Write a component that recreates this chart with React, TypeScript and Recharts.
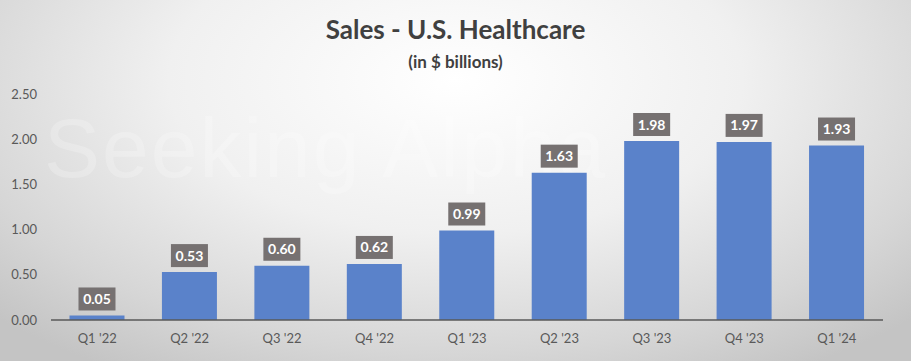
import { BarChart, Bar, XAxis, YAxis, LabelList } from 'recharts';

const quarters = ["Q1 '22", "Q2 '22", "Q3 '22", "Q4 '22", "Q1 '23", "Q2 '23", "Q3 '23", "Q4 '23", "Q1 '24"];
const sales = [0.05, 0.53, 0.6, 0.62, 0.99, 1.63, 1.98, 1.97, 1.93];
const yTicks = [0, 0.5, 1, 1.5, 2, 2.5];

const data = quarters.map((q, i) => ({ quarter: q, sales: sales[i] }));

const FONT = 'Lato, "Open Sans", sans-serif';

function ValueBox(props: any) {
  const { x, y, width, value } = props;
  const cx = x + width / 2;
  const w = 37;
  const h = 23;
  const top = y - h - 5;
  return (
    <g>
      <rect x={cx - w / 2} y={top} width={w} height={h} fill="#767171" />
      <text
        x={cx}
        y={top + h / 2 + 5}
        textAnchor="middle"
        fill="#ffffff"
        fontSize={14}
        fontWeight={700}
        fontFamily={FONT}
      >
        {Number(value).toFixed(2)}
      </text>
    </g>
  );
}

export default function App() {
  return (
    <div
      style={{
        position: 'absolute',
        top: 0,
        left: 0,
        width: 911,
        height: 361,
        background:
          'radial-gradient(ellipse 70% 95% at 50% 22%, #ffffff 0%, #f0f0f0 45%, #d6d6d6 80%, #c4c4c4 100%)',
        fontFamily: FONT,
        overflow: 'hidden',
      }}
    >
      <div
        style={{
          position: 'absolute',
          top: 13,
          width: 911,
          textAlign: 'center',
          fontSize: 26,
          fontWeight: 700,
          color: '#404040',
        }}
      >
        Sales - U.S. Healthcare
      </div>
      <div
        style={{
          position: 'absolute',
          top: 51,
          width: 911,
          textAlign: 'center',
          fontSize: 17,
          fontWeight: 700,
          color: '#404040',
        }}
      >
        (in $ billions)
      </div>
      <div
        style={{
          position: 'absolute',
          top: 100,
          left: 44,
          fontSize: 84,
          fontFamily: '"Liberation Sans", sans-serif',
          color: 'rgba(255,255,255,0.22)',
          letterSpacing: 2,
          whiteSpace: 'nowrap',
          pointerEvents: 'none',
        }}
      >
        Seeking Alpha
      </div>
      <div style={{ position: 'absolute', top: 0, left: 0 }}>
        <BarChart
          width={911}
          height={361}
          data={data}
          margin={{ top: 94, right: 28, bottom: 0, left: 0 }}
          barCategoryGap="20%"
        >
          <XAxis
            dataKey="quarter"
            height={41}
            axisLine={{ stroke: '#595959', strokeWidth: 1.5 }}
            tickLine={false}
            tick={{ fontSize: 13, fill: '#595959', fontFamily: FONT }}
            tickMargin={8}
          />
          <YAxis
            domain={[0, 2.5]}
            ticks={yTicks}
            width={51}
            axisLine={false}
            tickLine={false}
            tick={{ fontSize: 13, fill: '#595959', fontFamily: FONT, dx: -6 }}
            tickFormatter={(v: number) => v.toFixed(2)}
          />
          <Bar dataKey="sales" fill="#5a82ca" isAnimationActive={false}>
            <LabelList dataKey="sales" content={<ValueBox />} />
          </Bar>
        </BarChart>
      </div>
    </div>
  );
}
